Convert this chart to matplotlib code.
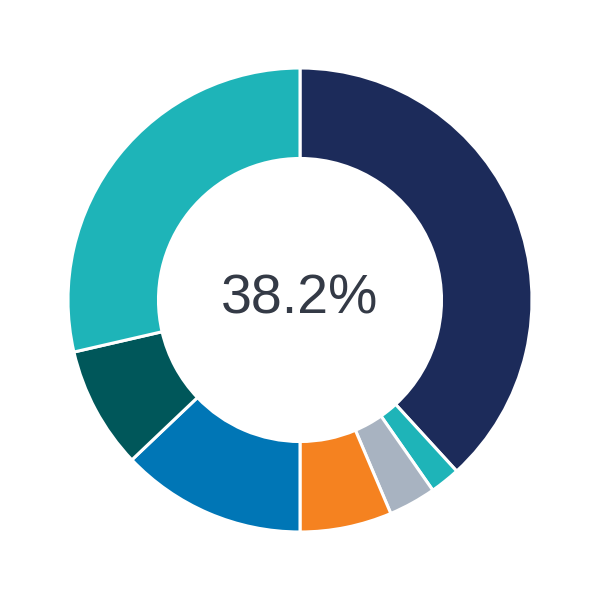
import matplotlib
matplotlib.use("Agg")
import matplotlib.pyplot as plt

# Slice shares (percent), clockwise from 12 o'clock
labels = ["A", "B", "C", "D", "E", "F", "G"]
values = [38.2, 2.1, 3.3, 6.4, 12.9, 8.5, 28.6]
colors = ["#1c2b5a", "#1eb4b8", "#a8b3c1", "#f58220", "#0076b6", "#00575a", "#1eb4b8"]
center_label = "38.2%"

fig = plt.figure(figsize=(6, 6), dpi=100)
ax = fig.add_axes([0, 0, 1, 1])

ax.pie(values, colors=colors, startangle=90, counterclock=False,
       radius=1.0,
       wedgeprops=dict(width=0.39, edgecolor="white", linewidth=2.2))

ax.text(0, 0, center_label, ha="center", va="center",
        fontsize=40, color="#343a46", family=["Liberation Sans", "DejaVu Sans"])

lim = 300 / 232
ax.set_xlim(-lim, lim)
ax.set_ylim(-lim, lim)
ax.set_aspect("equal")
ax.axis("off")

fig.savefig("out.png", dpi=100, facecolor="white")
